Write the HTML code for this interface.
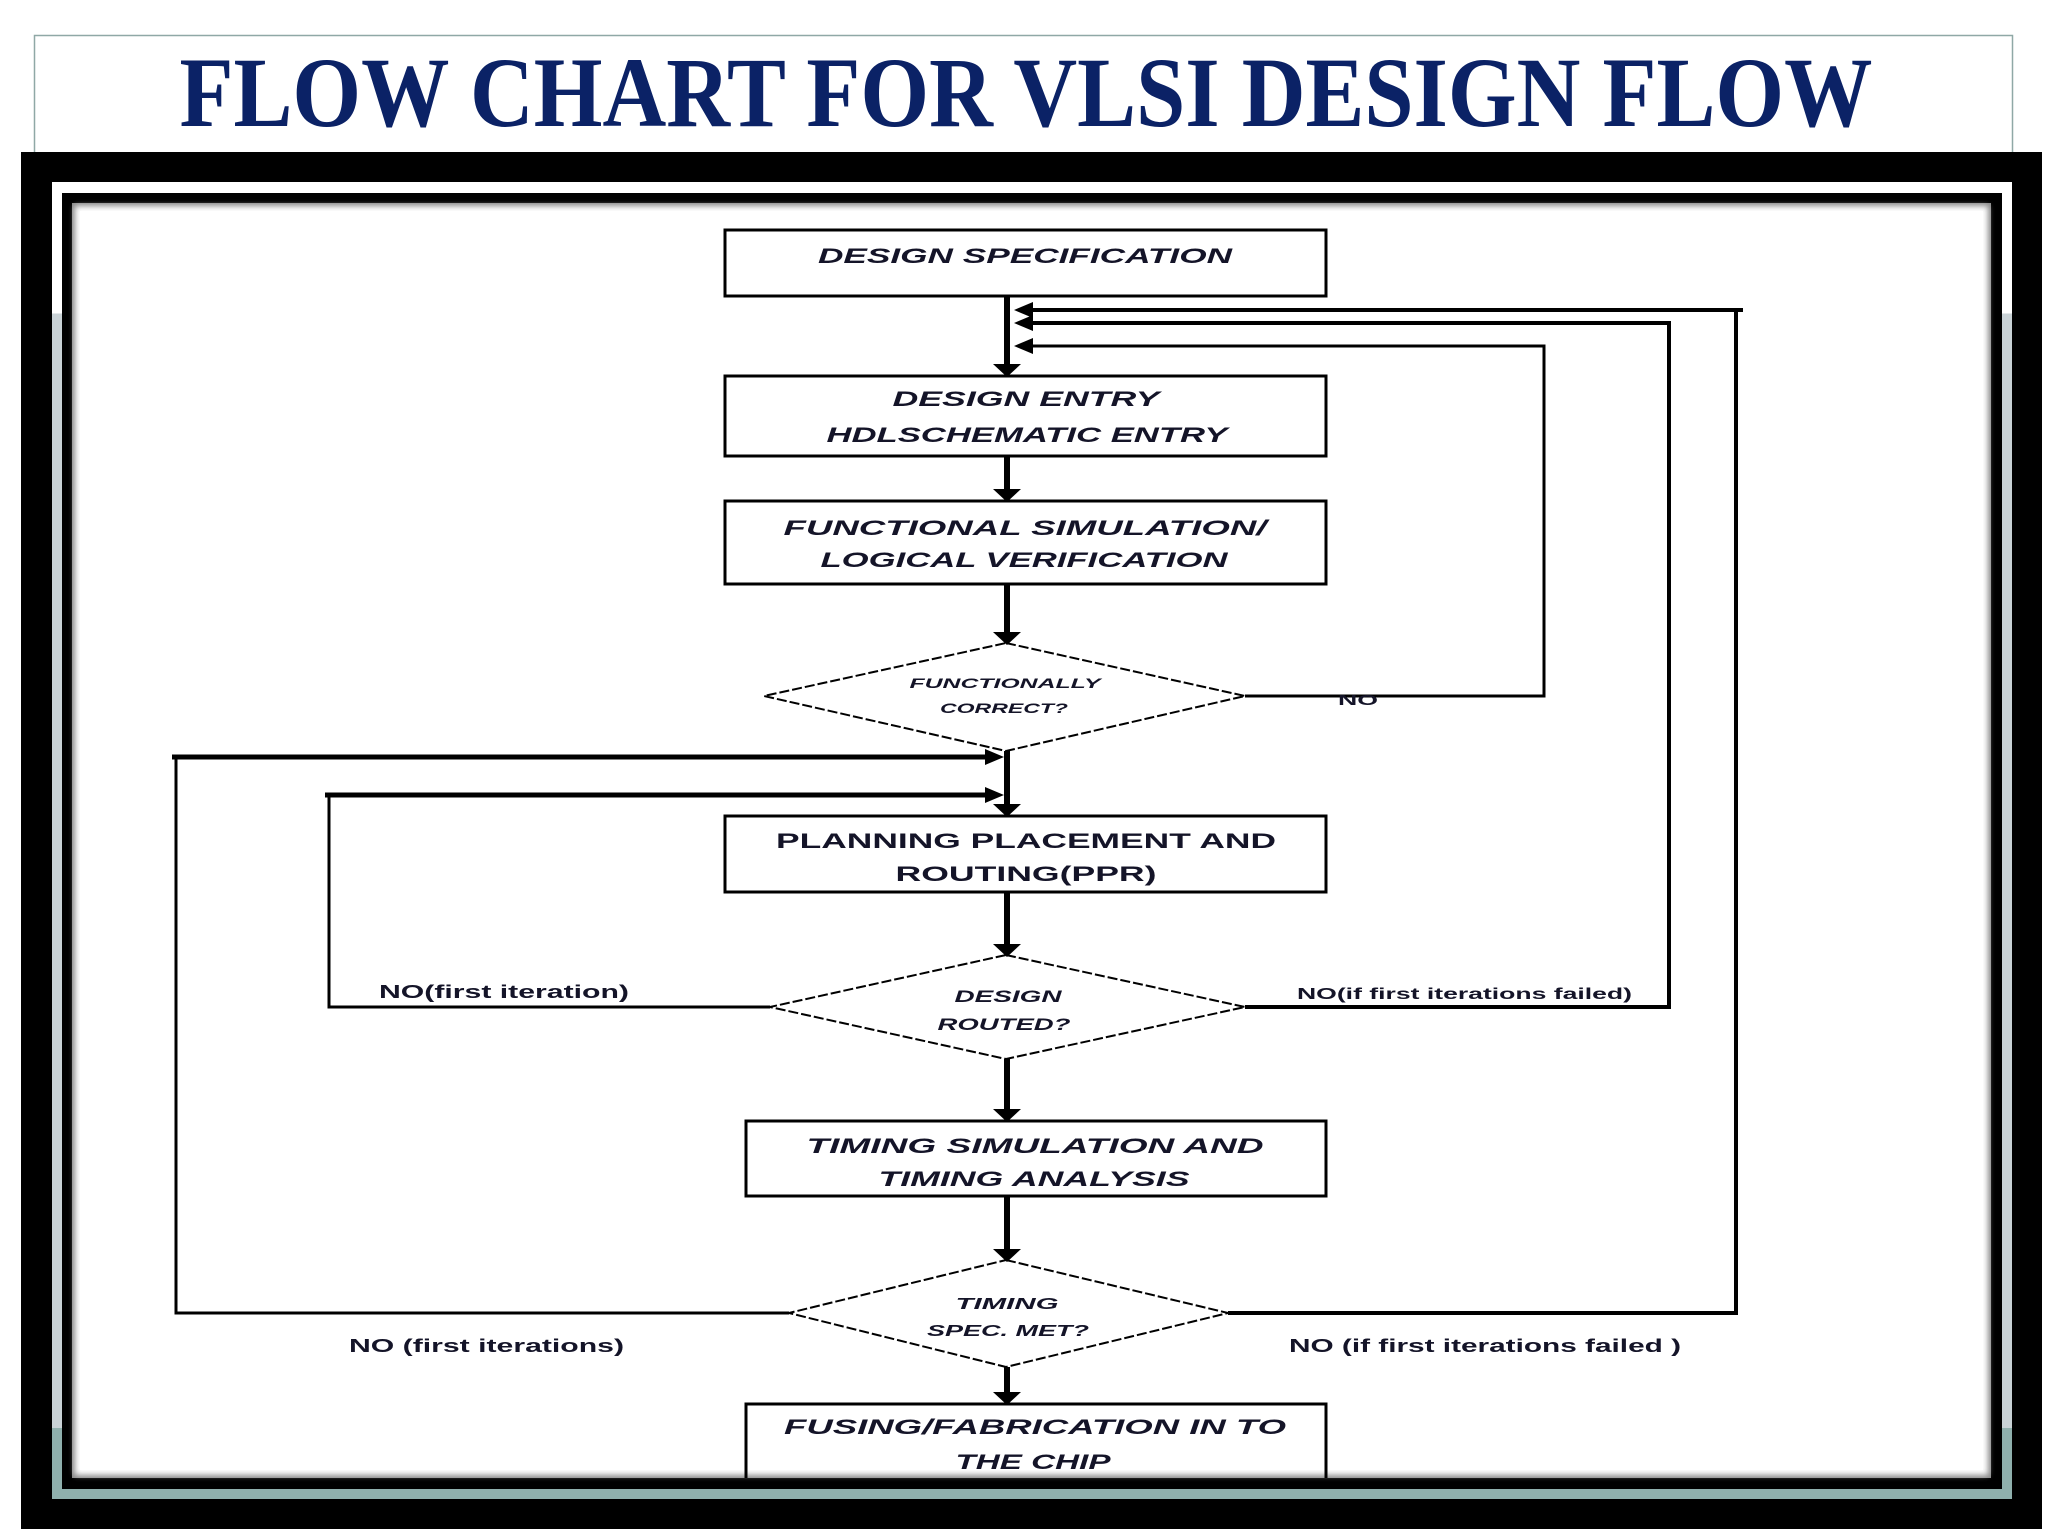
<!DOCTYPE html>
<html><head><meta charset="utf-8"><style>
html,body{margin:0;padding:0;background:#fff;width:2048px;height:1536px;overflow:hidden}
svg{display:block}
.b{font-family:"Liberation Sans",sans-serif;font-weight:bold;font-style:italic;fill:#141428}
.n{font-family:"Liberation Sans",sans-serif;font-weight:bold;fill:#141428}
</style></head><body>
<svg width="2048" height="1536" viewBox="0 0 2048 1536" xmlns="http://www.w3.org/2000/svg">
<defs>
<linearGradient id="gap" x1="0" y1="0" x2="0" y2="1">
<stop offset="0" stop-color="#ffffff"/><stop offset="0.1" stop-color="#ffffff"/>
<stop offset="0.1" stop-color="#c9d2d6"/><stop offset="0.946" stop-color="#c9d2d6"/>
<stop offset="0.946" stop-color="#8fb0ad"/><stop offset="1" stop-color="#8fb0ad"/>
</linearGradient>
<filter id="sh" x="-5%" y="-5%" width="110%" height="110%"><feGaussianBlur stdDeviation="3"/></filter>
</defs>
<rect x="34.5" y="35.5" width="1978" height="118" fill="#fff" stroke="#8fa8a6" stroke-width="1.5"/>
<text x="1026" y="126" text-anchor="middle" font-family="'Liberation Serif',serif" font-weight="bold" font-size="100" fill="#0b2266" textLength="1693" lengthAdjust="spacingAndGlyphs">FLOW CHART FOR VLSI DESIGN FLOW</text>
<rect x="21" y="152" width="2021" height="1377" fill="#000"/>
<rect x="52" y="182" width="1960" height="1317" fill="url(#gap)"/>
<rect x="62" y="193" width="1940" height="1296" fill="#000"/>
<rect x="72" y="203" width="1919" height="1275" fill="#8a8a8a"/>
<rect x="75" y="206" width="1913" height="1269" fill="#fff" filter="url(#sh)"/>
<rect x="80" y="211" width="1903" height="1259" fill="#fff"/>

<g stroke="#000" fill="none">
<rect x="725" y="230" width="601" height="66" stroke-width="3"/>
<rect x="725" y="376" width="601" height="80" stroke-width="3"/>
<rect x="725" y="501" width="601" height="83" stroke-width="3"/>
<rect x="725" y="816" width="601" height="76" stroke-width="3"/>
<rect x="746" y="1121" width="580" height="75" stroke-width="3"/>
<path d="M746 1478 V1404 H1326 V1478" stroke-width="3"/>
<polygon points="1006,643 1245,696 1006,751 764,696" stroke-width="2" stroke-dasharray="10,3"/>
<polygon points="1006,955 1245,1007 1006,1059 770,1007" stroke-width="2" stroke-dasharray="10,3"/>
<polygon points="1006,1260 1228,1313 1006,1367 789,1313" stroke-width="2" stroke-dasharray="10,3"/>
<g stroke-width="6">
<line x1="1007" y1="296" x2="1007" y2="364"/>
<line x1="1007" y1="456" x2="1007" y2="489"/>
<line x1="1007" y1="584" x2="1007" y2="632"/>
<line x1="1007" y1="751" x2="1007" y2="804"/>
<line x1="1007" y1="892" x2="1007" y2="944"/>
<line x1="1007" y1="1059" x2="1007" y2="1109"/>
<line x1="1007" y1="1196" x2="1007" y2="1249"/>
<line x1="1007" y1="1367" x2="1007" y2="1392"/>
</g>
<polyline points="1245,696 1544,696 1544,346 1030,346" stroke-width="3"/>
<polyline points="1245,1007 1669,1007 1669,323 1030,323" stroke-width="4"/>
<polyline points="1228,1313 1736,1313 1736,310 1030,310" stroke-width="4"/>
<line x1="1736" y1="310" x2="1743" y2="310" stroke-width="4"/>
<polyline points="789,1313 176,1313 176,757 985,757" stroke-width="3"/>
<line x1="172" y1="757" x2="985" y2="757" stroke-width="5"/>
<polyline points="770,1007 329,1007 329,795 985,795" stroke-width="3"/>
<line x1="325" y1="795" x2="985" y2="795" stroke-width="5"/>
</g>
<g fill="#000">
<polygon points="993,364 1021,364 1007,377"/>
<polygon points="993,489 1021,489 1007,502"/>
<polygon points="993,632 1021,632 1007,645"/>
<polygon points="993,804 1021,804 1007,817"/>
<polygon points="993,944 1021,944 1007,957"/>
<polygon points="993,1109 1021,1109 1007,1122"/>
<polygon points="993,1249 1021,1249 1007,1262"/>
<polygon points="993,1392 1021,1392 1007,1405"/>
<polygon points="1033,302 1033,318 1014,310"/>
<polygon points="1033,315 1033,331 1014,323"/>
<polygon points="1033,338 1033,354 1014,346"/>
<polygon points="985,749 985,765 1004,757"/>
<polygon points="985,787 985,803 1004,795"/>
</g>

<text class="b" x="1025" y="263" text-anchor="middle" font-size="21" textLength="414" lengthAdjust="spacingAndGlyphs">DESIGN  SPECIFICATION</text>
<text class="b" x="1026" y="406" text-anchor="middle" font-size="21" textLength="267" lengthAdjust="spacingAndGlyphs">DESIGN  ENTRY</text>
<text class="b" x="1027" y="442" text-anchor="middle" font-size="21" textLength="401" lengthAdjust="spacingAndGlyphs">HDLSCHEMATIC ENTRY</text>
<text class="b" x="1025" y="535" text-anchor="middle" font-size="21" textLength="483" lengthAdjust="spacingAndGlyphs">FUNCTIONAL SIMULATION/</text>
<text class="b" x="1024" y="567" text-anchor="middle" font-size="21" textLength="407" lengthAdjust="spacingAndGlyphs">LOGICAL VERIFICATION</text>
<text class="b" x="1005" y="688" text-anchor="middle" font-size="14" textLength="191" lengthAdjust="spacingAndGlyphs">FUNCTIONALLY</text>
<text class="b" x="1004" y="713" text-anchor="middle" font-size="14" textLength="128" lengthAdjust="spacingAndGlyphs">CORRECT?</text>
<text class="n" x="1026" y="848" text-anchor="middle" font-size="21" textLength="500" lengthAdjust="spacingAndGlyphs">PLANNING PLACEMENT AND</text>
<text class="n" x="1026" y="881" text-anchor="middle" font-size="21" textLength="261" lengthAdjust="spacingAndGlyphs">ROUTING(PPR)</text>
<text class="b" x="1008" y="1002" text-anchor="middle" font-size="17" textLength="107" lengthAdjust="spacingAndGlyphs">DESIGN</text>
<text class="b" x="1004" y="1030" text-anchor="middle" font-size="17" textLength="133" lengthAdjust="spacingAndGlyphs">ROUTED?</text>
<text class="b" x="1035" y="1153" text-anchor="middle" font-size="21" textLength="457" lengthAdjust="spacingAndGlyphs">TIMING SIMULATION AND</text>
<text class="b" x="1034" y="1186" text-anchor="middle" font-size="21" textLength="311" lengthAdjust="spacingAndGlyphs">TIMING ANALYSIS</text>
<text class="b" x="1007" y="1309" text-anchor="middle" font-size="16" textLength="103" lengthAdjust="spacingAndGlyphs">TIMING</text>
<text class="b" x="1008" y="1336" text-anchor="middle" font-size="16" textLength="162" lengthAdjust="spacingAndGlyphs">SPEC. MET?</text>
<text class="b" x="1035" y="1434" text-anchor="middle" font-size="21" textLength="502" lengthAdjust="spacingAndGlyphs">FUSING/FABRICATION IN TO</text>
<text class="b" x="1033" y="1469" text-anchor="middle" font-size="21" textLength="155" lengthAdjust="spacingAndGlyphs">THE CHIP</text>
<text class="n" x="1338" y="705" font-size="15" textLength="40" lengthAdjust="spacingAndGlyphs">NO</text>
<text class="n" x="379" y="998" font-size="18" textLength="250" lengthAdjust="spacingAndGlyphs">NO(first iteration)</text>
<text class="n" x="1297" y="999" font-size="16" textLength="335" lengthAdjust="spacingAndGlyphs">NO(if first iterations failed)</text>
<text class="n" x="349" y="1352" font-size="18" textLength="275" lengthAdjust="spacingAndGlyphs">NO (first iterations)</text>
<text class="n" x="1289" y="1352" font-size="18" textLength="392" lengthAdjust="spacingAndGlyphs">NO (if first iterations failed )</text>
</svg>
</body></html>
